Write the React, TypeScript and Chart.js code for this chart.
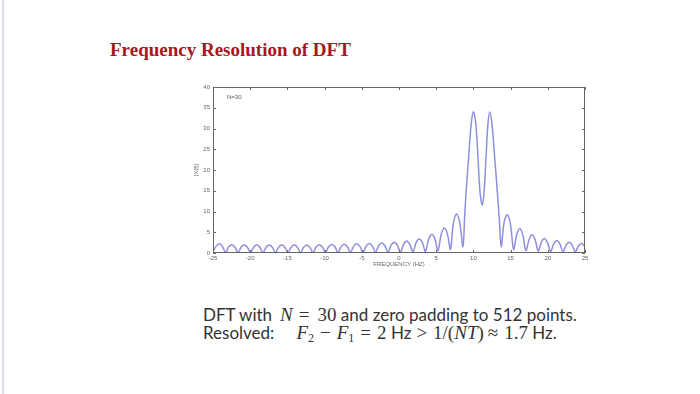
import React, { useEffect, useRef } from "react";
import { Chart, registerables } from "chart.js";

Chart.register(...registerables);

// Frequency axis (Hz) and |X(f)| values
const FREQ = [
  -25.0, -24.58, -24.16, -23.74,
  -23.32, -22.9, -22.48, -22.06,
  -21.64, -21.22, -20.8, -20.38,
  -19.96, -19.54, -19.12, -18.7,
  -18.28, -17.86, -17.44, -17.02,
  -16.6, -16.18, -15.76, -15.34,
  -14.92, -14.5, -14.08, -13.66,
  -13.24, -12.82, -12.4, -11.98,
  -11.56, -11.14, -10.72, -10.3,
  -9.88, -9.46, -9.04, -8.62,
  -8.2, -7.78, -7.36, -6.94,
  -6.52, -6.1, -5.68, -5.26,
  -4.84, -4.42, -4.0, -3.58,
  -3.16, -2.74, -2.32, -1.9,
  -1.48, -1.06, -0.64, -0.22,
  0.2, 0.62, 1.04, 1.46,
  1.88, 2.3, 2.72, 3.14,
  3.56, 3.98, 4.4, 4.82,
  5.24, 5.66, 6.08, 6.5,
  6.92, 7.3, 7.72, 8.15,
  8.6, 8.8, 9.03, 9.38, 9.7, 10.0, 10.3, 10.6, 10.9,
  11.2, 11.45, 11.7, 11.95, 12.2, 12.5, 12.85, 13.2, 13.5,
  13.74, 14.12, 14.55, 14.98,
  15.4, 15.82, 16.24, 16.64,
  17.06, 17.48, 17.89, 18.3,
  18.72, 19.13, 19.55, 19.96,
  20.38, 20.8, 21.21, 21.62,
  22.04, 22.46, 22.87, 23.28,
  23.7, 24.12, 24.55, 25.0,
];

const MAG = [
  0.3, 1.6, 2.2, 1.6,
  0.15, 1.45, 2.0, 1.45,
  0.15, 1.4, 1.9, 1.4,
  0.15, 1.4, 1.9, 1.4,
  0.15, 1.4, 1.9, 1.4,
  0.15, 1.4, 1.9, 1.4,
  0.15, 1.4, 1.9, 1.4,
  0.15, 1.4, 1.95, 1.4,
  0.15, 1.45, 2.0, 1.45,
  0.15, 1.5, 2.05, 1.5,
  0.15, 1.5, 2.1, 1.5,
  0.15, 1.6, 2.2, 1.6,
  0.2, 1.65, 2.3, 1.65,
  0.2, 1.75, 2.4, 1.75,
  0.2, 1.9, 2.6, 1.9,
  0.25, 2.1, 2.9, 2.1,
  0.3, 2.5, 3.4, 2.5,
  0.4, 3.3, 4.5, 3.4,
  0.6, 4.4, 6.0, 4.6,
  0.9, 7.0, 9.4, 7.5,
  1.5, 8.0, 15.0, 23.5, 31.0, 34.0, 31.5, 23.5, 14.5,
  11.6, 15.0, 23.2, 31.0, 34.0, 31.0, 23.2, 15.2, 7.5,
  1.5, 7.3, 9.2, 6.9,
  0.9, 4.4, 5.9, 4.3,
  0.6, 3.2, 4.4, 3.2,
  0.5, 2.6, 3.5, 2.5,
  0.4, 2.2, 3.0, 2.2,
  0.3, 1.9, 2.6, 1.9,
  0.3, 1.7, 2.3, 1.5,
];

const X_TICKS = [-25, -20, -15, -10, -5, 0, 5, 10, 15, 20, 25];
const Y_TICKS = [0, 5, 10, 15, 20, 25, 30, 35, 40];
const NOTE = "N=30";

const framePlugin = {
  id: "matlabFrame",
  afterDraw(chart: any) {
    const { ctx, chartArea: a, scales } = chart;
    ctx.save();
    ctx.strokeStyle = "#666";
    ctx.lineWidth = 1;
    ctx.strokeRect(a.left + 0.5, a.top + 0.5, a.right - a.left - 1, a.bottom - a.top - 1);
    ctx.beginPath();
    X_TICKS.forEach((v) => {
      const px = Math.round(scales.x.getPixelForValue(v)) + 0.5;
      ctx.moveTo(px, a.bottom);
      ctx.lineTo(px, a.bottom - 3);
      ctx.moveTo(px, a.top);
      ctx.lineTo(px, a.top + 3);
    });
    Y_TICKS.forEach((v) => {
      const py = Math.round(scales.y.getPixelForValue(v)) + 0.5;
      ctx.moveTo(a.left, py);
      ctx.lineTo(a.left + 3, py);
      ctx.moveTo(a.right, py);
      ctx.lineTo(a.right - 3, py);
    });
    ctx.stroke();
    ctx.fillStyle = "#555";
    ctx.font = "6px 'Liberation Sans', Arial, sans-serif";
    ctx.textBaseline = "middle";
    ctx.fillText(NOTE, a.left + 14, a.top + 10);
    ctx.restore();
  },
};

function Plot() {
  const ref = useRef<HTMLCanvasElement | null>(null);
  useEffect(() => {
    if (!ref.current) return;
    const tickFont = { size: 6, family: "'Liberation Sans', Arial, sans-serif" };
    const chart = new Chart(ref.current, {
      type: "line",
      data: {
        datasets: [
          {
            data: FREQ.map((f, i) => ({ x: f, y: MAG[i] })),
            borderColor: "#8e8ee0",
            borderWidth: 1.5,
            pointRadius: 0,
            tension: 0.35,
            fill: false,
          },
        ],
      },
      options: {
        animation: false,
        responsive: false,
        maintainAspectRatio: false,
        layout: { padding: { top: 7, right: 10, bottom: 6, left: 0 } },
        plugins: { legend: { display: false }, tooltip: { enabled: false } },
        scales: {
          x: {
            type: "linear",
            min: -25,
            max: 25,
            afterBuildTicks: (s: any) => {
              s.ticks = X_TICKS.map((v) => ({ value: v }));
            },
            afterFit: (s: any) => {
              s.height = 16;
            },
            grid: { display: false, drawTicks: false },
            border: { display: false },
            ticks: { font: tickFont, color: "#666", padding: 2, maxRotation: 0, autoSkip: false },
            title: {
              display: true,
              text: "FREQUENCY (HZ)",
              font: tickFont,
              color: "#666",
              padding: { top: 0, bottom: 1 },
            },
          },
          y: {
            type: "linear",
            min: 0,
            max: 40,
            afterBuildTicks: (s: any) => {
              s.ticks = Y_TICKS.map((v) => ({ value: v }));
            },
            afterFit: (s: any) => {
              s.width = 38;
            },
            grid: { display: false, drawTicks: false },
            border: { display: false },
            ticks: { font: tickFont, color: "#666", padding: 3, autoSkip: false },
            title: {
              display: true,
              text: "|X(f)|",
              font: tickFont,
              color: "#666",
              padding: { top: 18, bottom: 0 },
            },
          },
        },
      },
      plugins: [framePlugin],
    } as any);
    return () => chart.destroy();
  }, []);
  return (
    <canvas
      ref={ref}
      width={420}
      height={195}
      style={{ position: "absolute", left: 175, top: 80, width: 420, height: 195 }}
    />
  );
}

const serif = { fontFamily: "'Liberation Serif', 'DejaVu Serif', serif", fontSize: 19 };
const sub = { fontSize: 12, verticalAlign: "-3px", lineHeight: 0 };
const ib = (m: string) => ({ display: "inline-block", margin: m });

export default function App() {
  return (
    <div
      style={{
        position: "absolute",
        left: 0,
        top: 0,
        width: 700,
        height: 394,
        background: "#fff",
        overflow: "hidden",
      }}
    >
      <div
        style={{
          position: "absolute",
          left: 2,
          top: 0,
          width: 2,
          height: 394,
          background: "#dcdce8",
        }}
      />
      <div
        style={{
          position: "absolute",
          left: 110,
          top: 40,
          fontFamily: "'Liberation Serif', 'Times New Roman', serif",
          fontWeight: "bold",
          fontSize: 19,
          lineHeight: "19px",
          color: "#a8161e",
          whiteSpace: "nowrap",
        }}
      >
        Frequency Resolution of DFT
      </div>
      <Plot />
      <div
        style={{
          position: "absolute",
          left: 203,
          top: 306,
          fontFamily: "Lato, 'Open Sans', sans-serif",
          fontSize: 17,
          lineHeight: "18px",
          color: "#333",
          whiteSpace: "pre",
        }}
      >
        <div>
          DFT with<i style={{ ...serif, ...ib("0 0 0 8px") }}>N</i><span style={serif}><span style={ib("0 8px 0 6px")}>=</span>30</span> and zero padding to 512 points.
        </div>
        <div>
          Resolved:<span style={{ ...serif, marginLeft: 22 }}><i>F</i><span style={sub}>2</span><span style={ib("0 6px")}>−</span><i>F</i><span style={sub}>1</span><span style={ib("0 6px")}>=</span>2</span> Hz<span style={serif}><span style={ib("0 6px 0 5px")}>&gt;</span>1/(<i>NT</i>)<span style={ib("0 6px 0 4px")}>≈</span>1.7</span> Hz.
        </div>
      </div>
    </div>
  );
}
